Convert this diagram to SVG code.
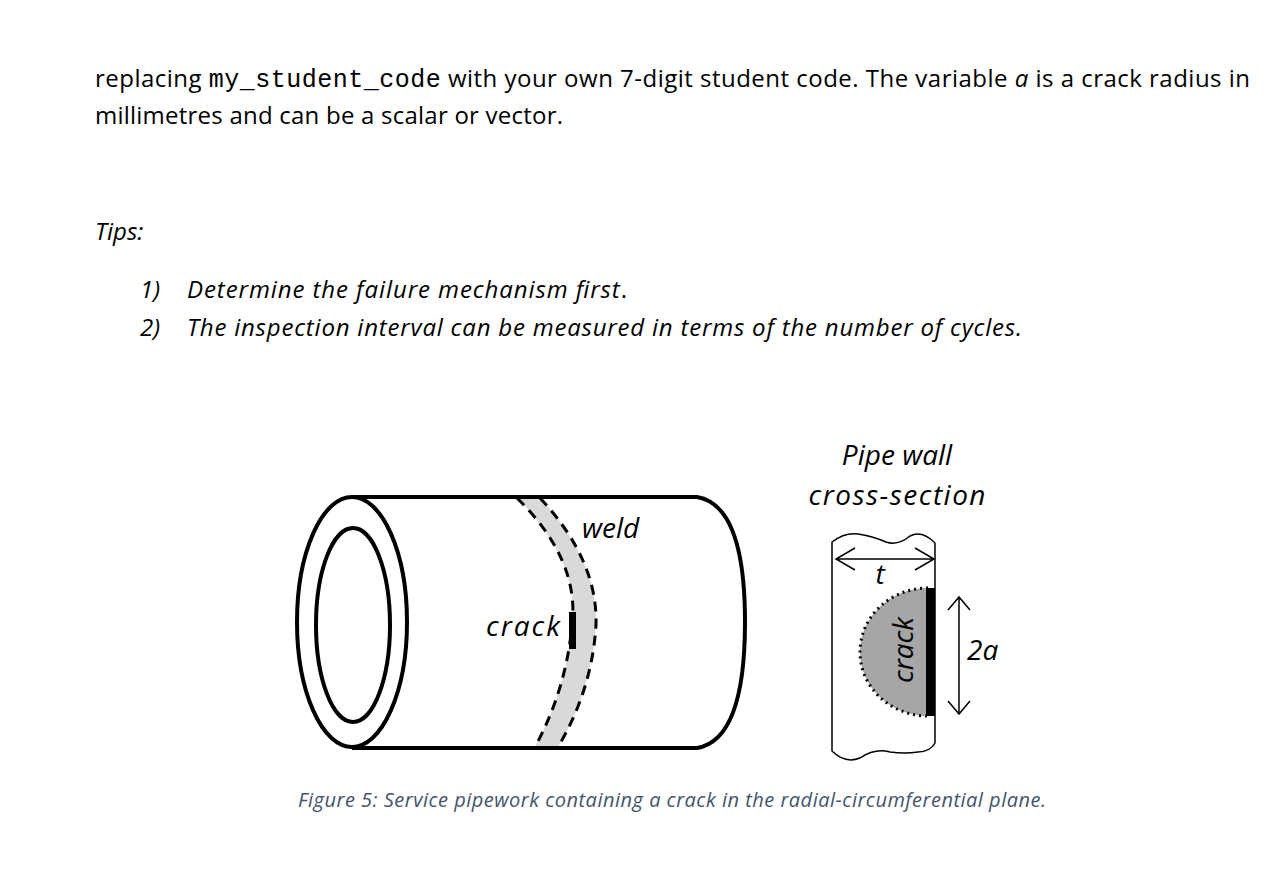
<svg xmlns="http://www.w3.org/2000/svg" width="1284" height="874" viewBox="0 0 1284 874">
<style>
.b{font-family:"Open Sans","Liberation Sans",sans-serif;font-size:24px;fill:#000}
.m{font-family:"Liberation Mono",monospace;font-size:25px}
.i{font-family:"Open Sans","Liberation Sans",sans-serif;font-style:italic;font-size:24px;fill:#000}
.f{font-family:"Open Sans","Liberation Sans",sans-serif;font-style:italic;font-size:28px;fill:#000}
.l{fill:none;stroke:#000;stroke-width:4}
.th{fill:none;stroke:#000;stroke-width:1.5}
.d{fill:none;stroke:#000;stroke-width:3;stroke-dasharray:10 7}
</style>
<rect width="1284" height="874" fill="#fff"/>
<text class="b" x="95" y="87" textLength="1155" lengthAdjust="spacing">replacing <tspan class="m">my_student_code</tspan> with your own 7-digit student code. The variable <tspan font-style="italic">a</tspan> is a crack radius in</text>
<text class="b" x="95" y="124" textLength="468" lengthAdjust="spacing">millimetres and can be a scalar or vector.</text>
<text class="i" x="95" y="240">Tips:</text>
<text class="i" x="140" y="298">1)</text>
<text class="i" x="187" y="298" textLength="440" lengthAdjust="spacing">Determine the failure mechanism first<tspan font-style="normal">.</tspan></text>
<text class="i" x="140" y="336">2)</text>
<text class="i" x="187" y="336" textLength="835" lengthAdjust="spacing">The inspection interval can be measured in terms of the number of cycles.</text>
<g id="pipe">
<path d="M517,498 Q580,560 572,625 Q566,690 535,747 L558,747 Q592,690 596,625 Q598,560 540,498 Z" fill="#d9d9d9"/>
<path class="d" d="M517,498 Q580,560 572,625 Q566,690 535,747"/>
<path class="d" d="M540,498 Q598,560 596,625 Q592,690 558,747"/>
<rect x="569" y="612" width="7" height="37" fill="#000"/>
<path class="l" d="M352,497 L697,497 Q745,505 745,622 Q745,740 697,748 L352,748"/>
<ellipse class="l" cx="352" cy="622" rx="55" ry="125"/>
<ellipse class="l" cx="353" cy="625" rx="37" ry="97"/>
<text class="f" x="582" y="538">weld</text>
<text class="f" x="486" y="636" textLength="74" lengthAdjust="spacing">crack</text>
</g>
<g id="section">
<path d="M928,588 A68,64 0 0 0 928,716 Z" fill="#a6a6a6"/>
<path d="M928,588 A68,64 0 0 0 928,716" fill="none" stroke="#000" stroke-width="3" stroke-dasharray="2 4"/>
<path class="th" stroke-width="2.5" d="M832,542 Q845,532 858,534 Q872,536 886,542 Q898,546 910,536 Q922,530 935,543 L935,743 Q930,752 918,752 Q905,754 890,752 Q875,748 860,758 Q845,764 832,751 Z"/>
<rect x="926" y="588" width="9" height="128" fill="#000"/>
<path class="th" d="M836,559 L934,559 M855,548 L836,559 L855,570 M915,548 L934,559 L915,570"/>
<path class="th" d="M959,597 L959,714 M948,610 L959,597 L970,610 M948,701 L959,714 L970,701"/>
<text class="f" x="880" y="584" text-anchor="middle">t</text>
<text class="f" x="967" y="660">2a</text>
<text class="f" x="0" y="0" transform="translate(913,650) rotate(-90)" text-anchor="middle">crack</text>
<text class="f" x="897" y="465" text-anchor="middle">Pipe wall</text>
<text class="f" x="897" y="505" text-anchor="middle" textLength="177" lengthAdjust="spacing">cross-section</text>
</g>
<text x="298" y="807" textLength="748" lengthAdjust="spacing" font-family="Open Sans,Liberation Sans,sans-serif" font-style="italic" font-size="20" fill="#44546a">Figure 5: Service pipework containing a crack in the radial-circumferential plane.</text>
</svg>
